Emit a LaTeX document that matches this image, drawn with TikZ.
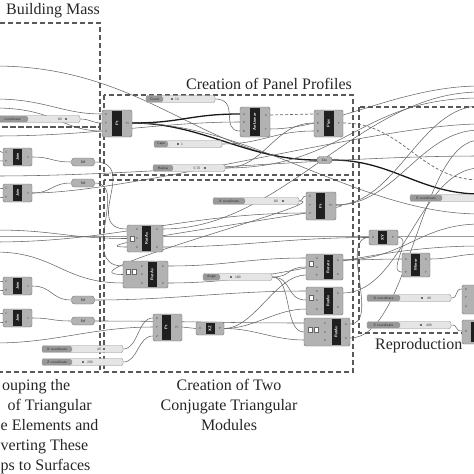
\documentclass[tikz,border=0pt]{standalone}
\usepackage{fontspec}
\setmainfont{Liberation Serif}
\usetikzlibrary{shapes.geometric}
\pgfdeclarelayer{bg}
\pgfsetlayers{bg,main}

\tikzset{
  grp/.style={draw=black!65, line width=1.1pt, dash pattern=on 5pt off 3pt},
  ttl/.style={font=\fontsize{16}{16}\selectfont, text=black!85, inner sep=0},
  comp/.style={draw=black!55, fill=black!30, rounded corners=1.5pt, line width=0.4pt, inner sep=0},
  strip/.style={fill=black!88, text=white, rotate=90, inner sep=0, font=\sffamily\bfseries\fontsize{4}{4}\selectfont},
  port/.style={inner sep=0, text=black!75, font=\sffamily\fontsize{3}{3}\selectfont},
  icon/.style={draw=black!60, fill=white, minimum width=4, minimum height=5, inner sep=0},
  capsule/.style={draw=black!55, fill=black!30, rounded corners=3pt, minimum height=8, inner sep=0, font=\sffamily\fontsize{3.5}{3.5}\selectfont},
  sl/.style={draw=black!45, fill=black!10, rounded corners=2pt, minimum height=7, inner sep=0},
  slab/.style={fill=black!40, rounded corners=1.5pt, minimum height=6, inner sep=0, font=\sffamily\fontsize{3.5}{3.5}\selectfont, text=black!85},
  sval/.style={inner sep=0, font=\sffamily\fontsize{3.5}{3.5}\selectfont, text=black!80},
  grip/.style={diamond, fill=black!75, inner sep=0, minimum size=2.6},
  wire/.style={draw=black!60, line width=0.55pt},
  fat/.style={draw=black!90, line width=1.3pt},
  lst/.style={draw=black!60, line width=0.7pt, dash pattern=on 3pt off 2pt}
}

\begin{document}
\begin{tikzpicture}[x=1pt,y=-1pt]
    \useasboundingbox (0,0) rectangle (474,474);
    \clip (0,0) rectangle (474,474);

    % group frames and titles
    \draw[grp] (-5,23) rectangle (100,127);
    \draw[grp] (-5,127) rectangle (100,372);
    \draw[grp] (104,95) rectangle (353,175);
    \draw[grp] (104,180) rectangle (353,372);
    \draw[grp] (359,107) rectangle (480,333);

    \node[ttl, anchor=base] (tbm) at (53,14.5) {Building Mass};
    \node[ttl, anchor=base] (tpp) at (269,89.5) {Creation of Panel Profiles};
    \node[ttl, anchor=base] (tct1) at (229,390) {Creation of Two};
    \node[ttl, anchor=base] (tct2) at (229,410) {Conjugate Triangular};
    \node[ttl, anchor=base] (tct3) at (229,430) {Modules};
    \node[ttl, anchor=base west] (tgr1) at (2,390) {ouping the};
    \node[ttl, anchor=base east] (tgr2) at (92,410) {of Triangular};
    \node[ttl, anchor=base west] (tgr3) at (0.5,430) {e Elements and};
    \node[ttl, anchor=base west] (tgr4) at (0.5,450) {verting These};
    \node[ttl, anchor=base west] (tgr5) at (0.5,470) {ps to Surfaces};
    \node[ttl, anchor=base west] (trp) at (375,349) {Reproduction};

    % building mass
    \node[comp, minimum width=30, minimum height=27] (pt1) at (117,123.5) {};
    \node[strip, minimum width=25, minimum height=10] (pt1s) at (117,123.5) {Pt};
    \node[port] (pt1x) at (106,114) {X};
    \node[port] (pt1y) at (106,123) {Y};
    \node[port] (pt1z) at (106,131) {Z};
    \node[port] (pt1o) at (127.5,123) {Pt};

    \node[sl, minimum width=84] (s1) at (38,119) {};
    \node[slab, minimum width=31] (s1l) at (12.5,119) {coordinate};
    \node[sval] (s1v) at (60,119) {80};
    \node[grip] (s1g) at (66,119) {};

    % panel profiles
    \node[sl, minimum width=69] (count) at (180.5,99) {};
    \node[slab, minimum width=17] (countl) at (154.5,99) {Count};
    \node[grip] (countg) at (172,99) {};
    \node[sval] (countv) at (177,99) {10};

    \node[sl, minimum width=68] (caps) at (188,144) {};
    \node[slab, minimum width=14] (capsl) at (161,144) {Caps};
    \node[grip] (capsg) at (178,144) {};
    \node[sval] (capsv) at (182,144) {1};

    \node[sl, minimum width=72] (radius) at (189,168) {};
    \node[slab, minimum width=20] (radiusl) at (163,168) {Radius};
    \node[sval] (radiusv) at (197,168) {0.70};
    \node[grip] (radiusg) at (205,168) {};

    \node[comp, minimum width=30, minimum height=30] (arr) at (255,122) {};
    \node[strip, minimum width=28, minimum height=10] (arrs) at (254.5,122) {ArrLinear};
    \node[port] (arrg) at (244,114) {G};
    \node[port] (arrd) at (244,122) {D};
    \node[port] (arrn) at (244,131) {N};
    \node[port] (arrgo) at (266,115) {G};
    \node[port] (arrto) at (266,129) {T};

    \node[comp, minimum width=29, minimum height=27] (pipe) at (328.5,123.5) {};
    \node[strip, minimum width=25, minimum height=10] (pipes) at (328.5,123.5) {Pipe};
    \node[port] (pipec) at (318,114) {C};
    \node[port] (piper) at (318,123) {R};
    \node[port] (pipee) at (318,131) {E};
    \node[port] (pipep) at (339,123) {P};

    \node[capsule, minimum width=15, minimum height=7] (crv) at (324.5,160) {Crv};

    % grouping
    \foreach \j/\y in {1/157, 2/193, 3/286, 4/318} {
      \node[comp, minimum width=29, minimum height=18] (join\j) at (17.5,\y) {};
      \node[strip, minimum width=16, minimum height=9] (join\j s) at (17.5,\y) {Join};
      \node[port] (join\j c) at (6.5,\y-4.5) {C};
      \node[port] (join\j p) at (6.5,\y+4) {P};
      \node[port] (join\j o) at (28.5,\y) {C};
    }
    \foreach \j/\y in {1/162, 2/183, 3/300, 4/321}
      \node[capsule, minimum width=23] (srf\j) at (83,\y) {Srf};

    \node[sl, minimum width=81] (s7) at (82.5,349) {};
    \node[slab, minimum width=30] (s7l) at (57,349) {X coordinate};
    \node[sval] (s7v) at (99,349) {40};
    \node[grip] (s7g) at (104,349) {};

    \node[sl, minimum width=81] (s8) at (82.5,362) {};
    \node[slab, minimum width=30] (s8l) at (57,362) {Z coordinate};
    \node[grip] (s8g) at (83,362) {};
    \node[sval] (s8v) at (90,362) {200};

    % conjugate modules
    \node[sl, minimum width=86] (s5) at (256,201) {};
    \node[slab, minimum width=32] (s5l) at (229,201) {X coordinate};
    \node[sval] (s5v) at (276,201) {80};
    \node[grip] (s5g) at (283,201) {};

    \node[sl, minimum width=69] (angle) at (237.5,277) {};
    \node[slab, minimum width=17] (anglel) at (211.5,277) {Angle};
    \node[grip] (angleg) at (231,277) {};
    \node[sval] (anglev) at (238,277) {180};

    \node[comp, minimum width=36, minimum height=27] (rotax1) at (145,238.5) {};
    \node[strip, minimum width=25, minimum height=9] (rotax1s) at (146.5,238.5) {RotAx};
    \node[icon] (rotax1i) at (132,238.5) {};
    \node[port] (rotax1g) at (137,229) {G};
    \node[port] (rotax1a) at (137,238.5) {A};
    \node[port] (rotax1x) at (137,247) {X};
    \node[port] (rotax1go) at (157,229) {G};
    \node[port] (rotax1xo) at (157,247) {X};

    \node[comp, minimum width=45, minimum height=27] (rotax2) at (145.5,274.5) {};
    \node[strip, minimum width=25, minimum height=9] (rotax2s) at (152,274.5) {RotAx};
    \node[icon] (rotax2i) at (128,272) {};
    \node[icon] (rotax2j) at (134,272) {};
    \node[port] (rotax2g) at (142,266) {G};
    \node[port] (rotax2a) at (142,274.5) {A};
    \node[port] (rotax2x) at (142,283) {X};
    \node[port] (rotax2go) at (163,266) {G};
    \node[port] (rotax2xo) at (163,283) {X};

    \node[comp, minimum width=30, minimum height=28] (pt2) at (321,206) {};
    \node[strip, minimum width=26, minimum height=9] (pt2s) at (320.5,206) {Pt};
    \node[port] (pt2x) at (310,196) {X};
    \node[port] (pt2y) at (310,205) {Y};
    \node[port] (pt2z) at (310,213) {Z};
    \node[port] (pt2o) at (331,205) {Pt};

    \node[comp, minimum width=37, minimum height=26] (rot1) at (324.5,267) {};
    \node[strip, minimum width=24, minimum height=9] (rot1s) at (328,267) {Rotate};
    \node[icon] (rot1i) at (311,264) {};
    \node[port] (rot1g) at (317,258) {G};
    \node[port] (rot1a) at (317,267) {A};
    \node[port] (rot1p) at (317,275) {P};
    \node[port] (rot1go) at (338,260) {G};
    \node[port] (rot1xo) at (338,274) {X};

    \node[comp, minimum width=37, minimum height=28] (rotax3) at (324.5,301) {};
    \node[strip, minimum width=26, minimum height=9] (rotax3s) at (328,301) {RotAx};
    \node[icon] (rotax3i) at (311,298) {};
    \node[port] (rotax3g) at (317,291) {G};
    \node[port] (rotax3a) at (317,300) {A};
    \node[port] (rotax3x) at (317,309) {X};
    \node[port] (rotax3go) at (338,293) {G};
    \node[port] (rotax3xo) at (338,307) {X};

    \node[comp, minimum width=46, minimum height=28] (rotax4) at (327,332) {};
    \node[strip, minimum width=26, minimum height=9] (rotax4s) at (336,332) {RotAx};
    \node[icon] (rotax4i) at (310,330) {};
    \node[icon] (rotax4j) at (316,330) {};
    \node[port] (rotax4g) at (325,323) {G};
    \node[port] (rotax4a) at (325,332) {A};
    \node[port] (rotax4x) at (325,340) {X};
    \node[port] (rotax4go) at (346,324) {G};
    \node[port] (rotax4xo) at (346,338) {X};

    \node[comp, minimum width=29, minimum height=27] (pt3) at (167.5,327.5) {};
    \node[strip, minimum width=25, minimum height=9] (pt3s) at (166,327.5) {Pt};
    \node[port] (pt3x) at (157,318) {X};
    \node[port] (pt3y) at (157,327) {Y};
    \node[port] (pt3z) at (157,336) {Z};
    \node[port] (pt3o) at (177,327) {Pt};

    \node[comp, minimum width=28, minimum height=13] (xz) at (210,328.5) {};
    \node[strip, minimum width=11, minimum height=9] (xzs) at (210,328.5) {XZ};
    \node[port] (xzi) at (200,328.5) {O};
    \node[port] (xzo) at (220,328.5) {P};

    % reproduction
    \node[sl, minimum width=80] (s9) at (450,198) {};
    \node[slab, minimum width=32] (s9l) at (426,198) {X coordinate};

    \node[comp, minimum width=29, minimum height=15] (xy) at (383.5,237.5) {};
    \node[strip, minimum width=13, minimum height=9] (xys) at (382.5,237.5) {XY};
    \node[port] (xyi) at (373,237.5) {O};
    \node[port] (xyo) at (393,237.5) {P};

    \node[comp, minimum width=28, minimum height=24] (mir) at (416,265) {};
    \node[strip, minimum width=22, minimum height=9] (mirs) at (415.5,265) {Mirror};
    \node[port] (mirg) at (406,259) {G};
    \node[port] (mirp) at (406,272) {P};
    \node[port] (mirgo) at (426,259) {G};
    \node[port] (mirto) at (426,272) {T};

    \node[sl, minimum width=84] (s10) at (409,298) {};
    \node[slab, minimum width=33] (s10l) at (383.5,298) {X coordinate};
    \node[grip] (s10g) at (422,298) {};
    \node[sval] (s10v) at (429,298) {40};

    \node[sl, minimum width=84] (s11) at (409,325) {};
    \node[slab, minimum width=33] (s11l) at (383.5,325) {Z coordinate};
    \node[grip] (s11g) at (421,325) {};
    \node[sval] (s11v) at (429,325) {400};

    \node[comp, minimum width=28, minimum height=29] (part1) at (476,299.5) {};
    \node[port] (part1x) at (466,289) {X};
    \node[port] (part1y) at (466,297) {Y};
    \node[port] (part1z) at (466,306) {Z};

    \node[comp, minimum width=28, minimum height=24] (part2) at (476,332) {};
    \node[strip, minimum width=20, minimum height=9] (part2s) at (475,332) {};
    \node[port] (part2o) at (466,331) {O};

    % wires
    \begin{pgfonlayer}{bg}
    \clip (0,0) rectangle (474,474);
    \coordinate (eA) at (-5,66);
    \coordinate (eB) at (-5,99);
    \coordinate (eC) at (-5,108);
    \coordinate (eD) at (-5,136);
    \coordinate (eE) at (-5,146);
    \coordinate (eF) at (-5,160);
    \coordinate (eR) at (-5,176);
    \coordinate (eG) at (-5,188);
    \coordinate (eH) at (-5,197);
    \coordinate (eI) at (-5,230);
    \coordinate (eJ) at (-5,236);
    \coordinate (eK) at (-5,242);
    \coordinate (eL) at (-5,252);
    \coordinate (eM) at (-5,281);
    \coordinate (eN) at (-5,290);
    \coordinate (eO) at (-5,313);
    \coordinate (eP) at (-5,322);
    \coordinate (eQ) at (-5,343);
    \coordinate (fA) at (480,86);
    \coordinate (fB) at (480,92);
    \coordinate (fC) at (480,106);
    \coordinate (fN) at (480,124);
    \coordinate (fL) at (480,140);
    \coordinate (fM) at (480,156);
    \coordinate (fK) at (480,168);
    \coordinate (fD) at (480,180);
    \coordinate (fE) at (480,194);
    \coordinate (fF) at (480,214);
    \coordinate (fG) at (480,224);
    \coordinate (fH) at (480,236);
    \coordinate (fI) at (480,246);
    \coordinate (fJ) at (480,254);
    \coordinate (fO) at (480,98);
    \coordinate (fP) at (480,130);

    \draw[wire] (eA) .. controls +(150,0) and +(-110,0) .. (crv.west);
    \draw[wire] (eB) .. controls +(50,0) and +(-40,0) .. (pt1.west |- pt1x);
    \draw[wire] (s1.east) .. controls +(10,0) and +(-10,0) .. (pt1.west |- pt1y);
    \draw[wire] (eC) .. controls +(60,0) and +(-40,0) .. (pt1.west |- pt1z);
    \draw[wire] (eD) .. controls +(100,0) and +(-80,0) .. (arr.west |- arrd);
    \draw[fat] (pt1.east |- pt1o) .. controls +(50,0) and +(-50,0) .. (arr.west |- arrg);
    \draw[fat] (pt1.east |- pt1o) .. controls +(70,0) and +(-70,0) .. (crv.west);
    \draw[wire] (pt1.east |- pt1o) .. controls +(120,0) and +(-120,0) .. (fF);
    \draw[wire] (count.east) .. controls +(25,0) and +(-20,0) .. (arr.west |- arrn);
    \draw[lst] (arr.east |- arrgo) -- (pipe.west |- pipec);
    \draw[wire] (arr.east |- arrto) .. controls +(60,0) and +(-80,0) .. (fA);
    \draw[wire] (caps.east) .. controls +(40,0) and +(-40,0) .. (pipe.west |- pipee);
    \draw[wire] (radius.east) .. controls +(40,0) and +(-40,0) .. (pipe.west |- piper);
    \draw[wire] (radius.east) .. controls +(120,0) and +(-120,0) .. (fO);
    \draw[lst] (pipe.east |- pipep) .. controls +(60,0) and +(-60,0) .. (fD);
    \draw[fat] (crv.east) .. controls +(60,0) and +(-60,0) .. (fE);
    \draw[wire] (rotax1.east |- rotax1go) .. controls +(120,0) and +(-120,0) .. (fB);
    \draw[wire] (pt2.east |- pt2o) .. controls +(60,0) and +(-60,0) .. (fC);
    \draw[wire] (pt2.east |- pt2o) .. controls +(60,0) and +(-60,0) .. (fP);

    \draw[wire] (eE) .. controls +(5,0) and +(-5,0) .. (join1.west |- join1c);
    \draw[wire] (eF) .. controls +(5,0) and +(-5,0) .. (join1.west |- join1p);
    \draw[wire] (eG) .. controls +(5,0) and +(-5,0) .. (join2.west |- join2c);
    \draw[wire] (eH) .. controls +(5,0) and +(-5,0) .. (join2.west |- join2p);
    \draw[wire] (eM) .. controls +(5,0) and +(-5,0) .. (join3.west |- join3c);
    \draw[wire] (eN) .. controls +(5,0) and +(-5,0) .. (join3.west |- join3p);
    \draw[wire] (eO) .. controls +(5,0) and +(-5,0) .. (join4.west |- join4c);
    \draw[wire] (eP) .. controls +(5,0) and +(-5,0) .. (join4.west |- join4p);
    \draw[wire] (join1.east |- join1o) .. controls +(20,0) and +(-20,0) .. (srf1.west);
    \draw[wire] (join2.east |- join2o) .. controls +(20,0) and +(-20,0) .. (srf2.west);
    \draw[wire] (join2.east |- join2o) .. controls +(100,0) and +(-100,0) .. (fN);
    \draw[wire] (join3.east |- join3o) .. controls +(20,0) and +(-20,0) .. (srf3.west);
    \draw[wire] (join4.east |- join4o) .. controls +(20,0) and +(-20,0) .. (srf4.west);
    \draw[wire] (srf1.east) .. controls +(45,0) and +(-45,0) .. (rotax1.west |- rotax1g);
    \draw[wire] (srf2.east) .. controls +(35,0) and +(-45,0) .. (rotax2.west |- rotax2g);
    \draw[wire] (srf3.east) .. controls +(80,0) and +(-80,0) .. (rotax3.west |- rotax3g);
    \draw[wire] (srf4.east) .. controls +(80,0) and +(-80,0) .. (rotax4.west |- rotax4g);
    \draw[wire] (eI) .. controls +(60,0) and +(-60,0) .. (rotax1.west |- rotax1a);
    \draw[wire] (pt2.east |- pt2o) .. controls +(50,0) and +(-70,0) .. (rotax1.west |- rotax1x);
    \draw[wire] (s5.east) .. controls +(40,0) and +(-70,0) .. (rotax2.west |- rotax2a);
    \draw[wire] (eL) .. controls +(60,0) and +(-60,0) .. (rotax2.west |- rotax2x);
    \draw[wire] (eK) .. controls +(120,0) and +(-120,0) .. (pt2.west |- pt2z);
    \draw[wire] (eJ) .. controls +(150,0) and +(-150,0) .. (fH);
    \draw[wire] (eR) .. controls +(150,0) and +(-150,0) .. (fM);

    \draw[wire] (s5.east) .. controls +(4,0) and +(-4,0) .. (pt2.west |- pt2x);
    \draw[wire] (rotax2.east |- rotax2go) .. controls +(60,0) and +(-60,0) .. (rot1.west |- rot1g);
    \draw[wire] (rotax2.east |- rotax2xo) .. controls +(120,0) and +(-120,0) .. (fI);
    \draw[wire] (rotax1.east |- rotax1xo) .. controls +(80,0) and +(-80,0) .. (xy.west |- xyi);
    \draw[wire] (angle.east) .. controls +(20,0) and +(-20,0) .. (rot1.west |- rot1a);
    \draw[wire] (angle.east) .. controls +(20,0) and +(-20,0) .. (rotax3.west |- rotax3a);
    \draw[wire] (angle.east) .. controls +(20,0) and +(-20,0) .. (rotax4.west |- rotax4a);
    \draw[wire] (xz.east |- xzo) .. controls +(30,0) and +(-30,0) .. (rot1.west |- rot1p);
    \draw[wire] (xz.east |- xzo) .. controls +(30,0) and +(-30,0) .. (rotax3.west |- rotax3x);
    \draw[wire] (xz.east |- xzo) .. controls +(30,0) and +(-30,0) .. (rotax4.west |- rotax4x);
    \draw[wire] (s7.east) .. controls +(15,0) and +(-15,0) .. (pt3.west |- pt3x);
    \draw[wire] (s8.east) .. controls +(15,0) and +(-15,0) .. (pt3.west |- pt3z);
    \draw[wire] (eQ) .. controls +(60,0) and +(-60,0) .. (pt3.west |- pt3y);
    \draw[wire] (pt3.east |- pt3o) -- (xz.west |- xzi);
    \draw[wire] (rot1.east |- rot1go) .. controls +(25,0) and +(-25,0) .. (mir.west |- mirg);
    \draw[wire] (rot1.east |- rot1go) .. controls +(60,0) and +(-60,0) .. (fG);
    \draw[wire] (rotax3.east |- rotax3go) .. controls +(60,0) and +(-60,0) .. (fK);
    \draw[wire] (rotax4.east |- rotax4go) .. controls +(30,0) and +(-30,0) .. (xy.west |- xyi);
    \draw[wire] (rotax4.east |- rotax4xo) .. controls +(60,0) and +(-60,0) .. (fL);
    \draw[wire] (xy.east |- xyo) .. controls +(15,0) and +(-15,0) .. (mir.west |- mirp);
    \draw[wire] (mir.east |- mirgo) .. controls +(20,0) and +(-20,0) .. (fJ);
    \draw[wire] (s10.east) .. controls +(8,0) and +(-8,0) .. (part1.west |- part1x);
    \draw[wire] (s11.east) .. controls +(8,0) and +(-8,0) .. (part2.west |- part2o);
    \end{pgfonlayer}
\end{tikzpicture}
\end{document}
